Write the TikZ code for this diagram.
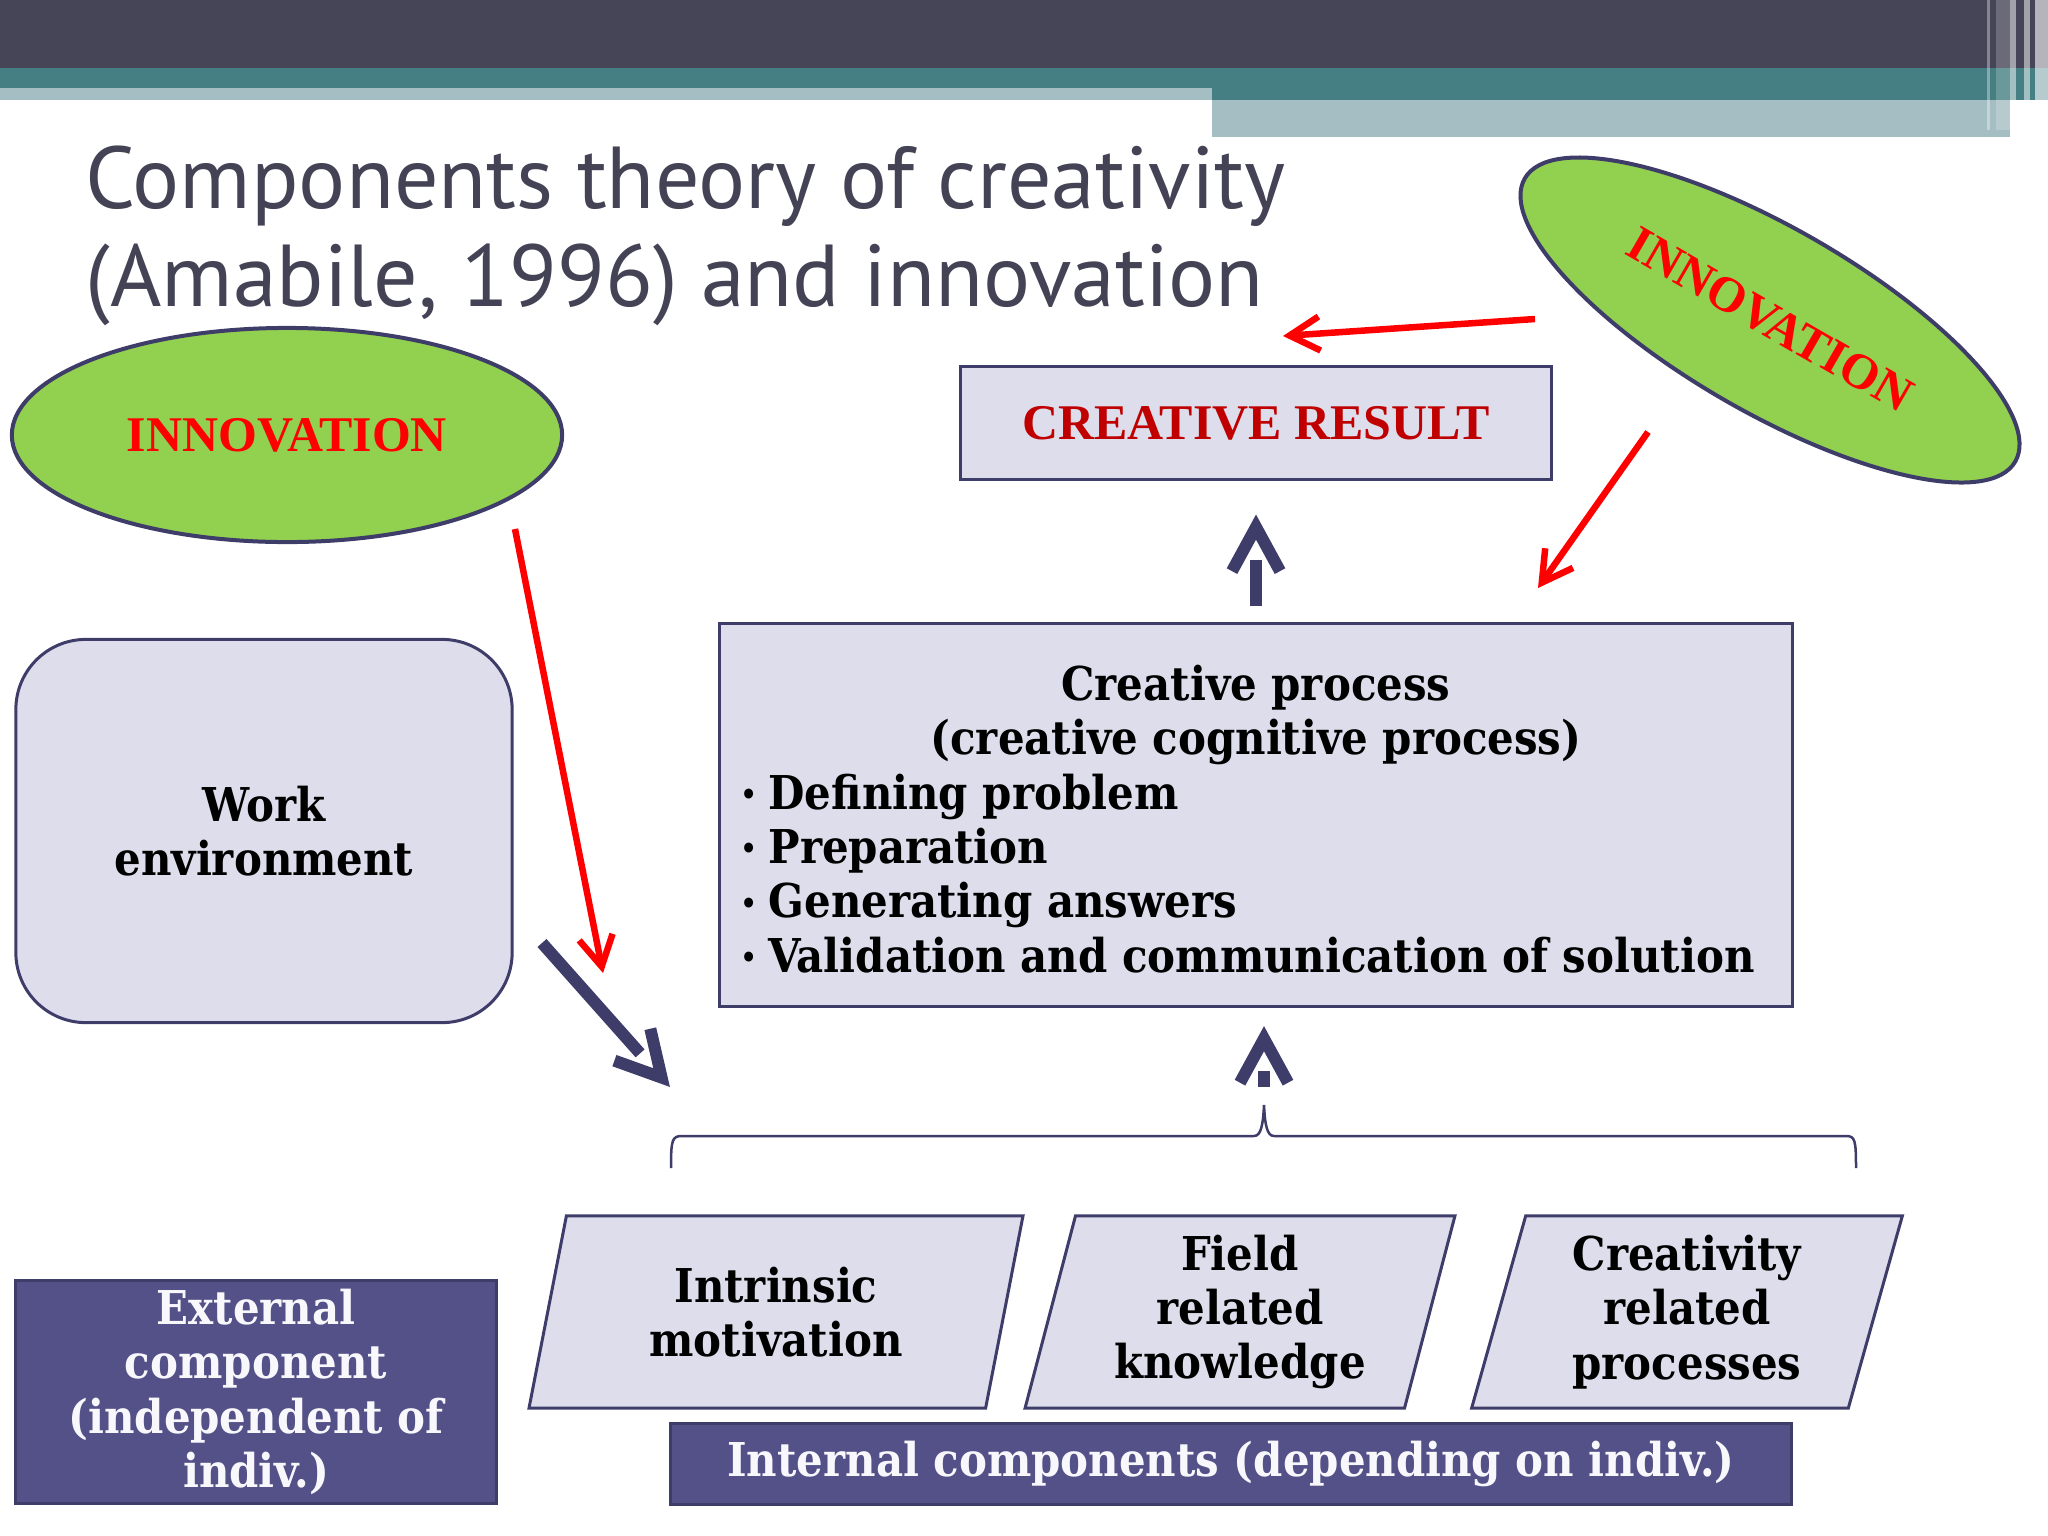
\documentclass[tikz,border=0pt]{standalone}
\usepackage{fontspec}
\newfontfamily\titlefont{PT Sans}
\newfontfamily\timesfont{Liberation Serif}
\newfontfamily\boxserif{DejaVu Serif Condensed}
\usetikzlibrary{%
    arrows.meta,
    decorations.markings,
    shapes.geometric
}
\definecolor{bardark}{RGB}{70,69,88}
\definecolor{barteal}{RGB}{70,127,131}
\definecolor{barlight}{RGB}{165,190,195}
\definecolor{titlegray}{RGB}{67,67,85}
\definecolor{navy}{RGB}{62,60,105}
\definecolor{lav}{RGB}{221,221,235}
\definecolor{innogreen}{RGB}{146,208,80}
\definecolor{extblue}{RGB}{83,81,136}
\definecolor{resred}{RGB}{192,0,0}
\definecolor{exttext}{RGB}{248,248,252}
\newcommand\boxfont{\boxserif\bfseries\fontsize{13.25}{15.45}\selectfont}
\newcommand\capsfont{\timesfont\bfseries\fontsize{14.2}{17}\selectfont}
\newcommand\bul{\raisebox{.2ex}{\footnotesize\textbullet}\hspace{.25em}}
\tikzset{
    box/.style = {draw=navy, line width=.03cm, fill=lav, font=\boxfont, align=center, inner sep=0pt},
    inno/.style = {ellipse, draw=navy, line width=.04cm, fill=innogreen, text=red, font=\capsfont, inner sep=0pt},
    para/.style = {box, trapezium, trapezium left angle=76, trapezium right angle=104,
                   trapezium stretches=true, minimum height=1.92cm},
    redarrow/.style = {red, line width=.065cm, -{Straight Barb[length=.3cm,width=.34cm]}},
    navyarrow/.style = {navy, line width=.12cm, shorten >=.45cm,
        postaction={decorate, decoration={markings,
            mark=at position 1 with {\arrow{Straight Barb[length=.44cm,width=.48cm]}}}}}
}

\begin{document}
\begin{tikzpicture}[x=.01cm, y=-.01cm]
    \useasboundingbox (0,0) rectangle (2048,1536);
    \fill[bardark] (0,0) rectangle (2048,68);
    \fill[barteal] (0,68) rectangle (2048,88);
    \fill[barteal] (1212,88) rectangle (2048,100);
    \fill[barlight] (0,88) rectangle (1212,100);
    \fill[barlight] (1212,100) rectangle (2010,137);
    \fill[white, opacity=.35] (1987,0) rectangle (1990,130);
    \fill[white, opacity=.2] (1996,0) rectangle (2010,130);
    \fill[white, opacity=.5] (2010,0) rectangle (2016,137);
    \fill[white, opacity=.5] (2024,0) rectangle (2030,137);
    \fill[white, opacity=.6] (2035,0) rectangle (2048,137);

    \node (title) [anchor=north west, inner sep=0pt, align=left, text=titlegray,
        font=\titlefont\fontsize{25}{27.9}\selectfont] at (85,145)
        {Components theory of creativity\\(Amabile, 1996) and innovation};

    \node (inn1) [inno, minimum width=5.5cm, minimum height=2.14cm] at (287,435) {INNOVATION};
    \node (inn2) [inno, minimum width=5.66cm, minimum height=1.84cm, rotate=-30] at (1770,320) {INNOVATION};
    \node (res) [box, font=\capsfont, text=resred, minimum width=5.91cm, minimum height=1.12cm] at (1256,423) {CREATIVE RESULT};

    \node (cp) [box, minimum width=10.72cm, minimum height=3.83cm] at (1256,815) {%
        \begin{minipage}{10.3cm}
        \vspace*{.08cm}
        \makebox[\linewidth]{Creative process}\\
        \makebox[\linewidth]{(creative cognitive process)}\\
        \bul Defining problem\\
        \bul Preparation\\
        \bul Generating answers\\
        \bul Validation and communication of solution
        \end{minipage}};

    \node (we) [box, rounded corners=.7cm, minimum width=4.96cm, minimum height=3.83cm] at (264,831) {Work\\environment};

    \node (p1) [para, minimum width=4.94cm] at (776,1312) {Intrinsic\\motivation};
    \node (p2) [para, minimum width=4.30cm] at (1240,1312) {Field\\related\\knowledge};
    \node (p3) [para, minimum width=4.31cm] at (1687,1312) {Creativity\\related\\processes};

    \node (ext) [box, fill=extblue, text=exttext, minimum width=4.8cm, minimum height=2.23cm] at (256,1392)
        {External\\component\\(independent of\\indiv.)};
    \node (int) [box, fill=extblue, text=exttext, minimum width=11.21cm, minimum height=.81cm] at (1231,1464)
        {\raisebox{-.05cm}{Internal components (depending on indiv.)}};

    \coordinate (brc) at (1264,1105);
    \draw[navy, line width=.025cm] (671,1168) .. controls (671,1140) and (672,1136) .. (682,1136) -- (1254,1136)
        .. controls (1261,1136) and (1263,1125) .. (brc) .. controls (1265,1125) and (1267,1136) .. (1274,1136)
        -- (1846,1136) .. controls (1855,1136) and (1856,1140) .. (1856,1168);

    \coordinate (r1a) at (1535,319);
    \coordinate (r1b) at (1283,336);
    \coordinate (r2a) at (1648,432);
    \coordinate (r2b) at (1538,588);
    \coordinate (r3a) at (515,529);
    \coordinate (r3b) at (603,973);
    \draw[redarrow] (r1a) -- (r1b);
    \draw[redarrow] (r2a) -- (r2b);
    \draw[redarrow] (r3a) -- (r3b);

    \coordinate (u1) at ([yshift=-.34cm]res.south);
    \coordinate (u2) at ([yshift=-.18cm]brc |- cp.south);
    \coordinate (d0) at (542,943);
    \coordinate (d1) at (670,1087);
    \draw[navyarrow] ([yshift=.16cm]cp.north) -- (u1);
    \draw[navyarrow] ([yshift=.18cm]brc) -- (u2);
    \draw[navyarrow] (d0) -- (d1);
\end{tikzpicture}
\end{document}
